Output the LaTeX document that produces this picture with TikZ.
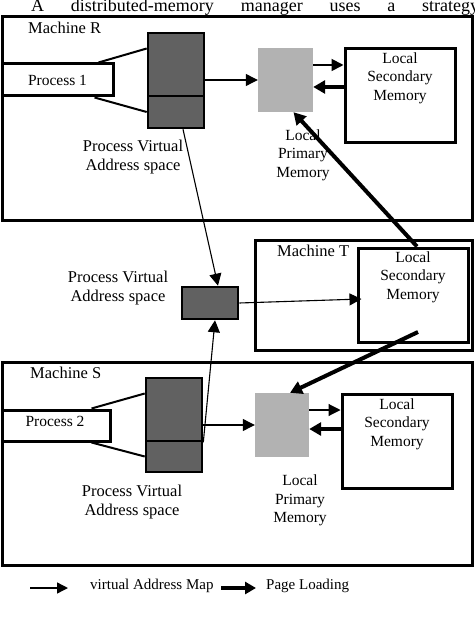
\documentclass[tikz,border=0pt]{standalone}
\usepackage{fontspec}
\setmainfont{Liberation Serif}
\usetikzlibrary{positioning, arrows.meta, calc}

\begin{document}
\begin{tikzpicture}[
    x=1pt, y=-1pt,
    machine/.style={draw, line width=3pt, inner sep=0pt},
    box/.style={draw, line width=3pt, fill=white, inner sep=0pt,
                minimum width=#1},
    box/.default={110pt},
    vas/.style={draw, line width=2.6pt, fill=black!62, inner sep=0pt,
                minimum width=56pt},
    prim/.style={fill=black!30, inner sep=0pt, minimum width=55pt,
                 minimum height=64pt},
    txt/.style={align=center, inner sep=0pt, font=\fontsize{15.5}{18.5}\selectfont},
    big/.style={txt, font=\fontsize{16.5}{19}\selectfont},
    small/.style={txt, font=\fontsize{15}{18}\selectfont},
    map/.style={-{Triangle[length=12pt, width=12pt]}, line width=1.1pt},
    load/.style={-{Triangle[length=12pt, width=13pt]}, line width=4pt},
    link/.style={line width=2pt}
]
\useasboundingbox (0,0) rectangle (474,620);

% ---- heading line (cut by the page) ----
\node[anchor=base west, inner sep=0pt] (head) at (31,12)
      {\fontsize{18}{20}\selectfont\makebox[448pt][s]{A distributed-memory manager uses a strategy}};

% ---- Machine R ----
\node[machine, minimum width=470pt, minimum height=203pt] (mR) at (237,118.5) {};
\node[big, anchor=west] (mRl) at (28,28) {Machine R};
\node[box=111pt, minimum height=32pt] (p1) at (57.5,80) {};
\node[txt] at (p1) {Process 1};
\node[vas, minimum height=63pt] (vasRt) at (176,64.5) {};
\node[vas, minimum height=32pt] (vasRb) at (176,112) {};
\node[big] (vasRl) at (133,157) {Process Virtual\\Address space};
\node[prim] (primR) at (285.5,80) {};
\node[txt] (primRl) at (303,155) {Local\\Primary\\Memory};
\node[box, minimum height=94pt] (secR) at (400,96) {};
\node[txt] (secRl) at (400,78) {Local\\Secondary\\Memory};
\draw[link] ([xshift=-16pt]p1.north east) -- ([yshift=16pt]vasRt.west);
\draw[link] ([xshift=-20pt]p1.south east) -- (vasRb.west);
\draw[map] (vasRt.east |- primR) -- (primR.west);
\draw[map, line width=1.8pt] ([yshift=15pt]primR.east) -- ([yshift=15pt]primR.east -| secR.west);
\draw[load] ([yshift=-7pt]primR.east -| secR.west) -- ([yshift=-7pt]primR.east);

% ---- Machine T ----
\node[machine, minimum width=217pt, minimum height=110pt] (mT) at (363.5,295) {};
\node[big, anchor=west] (mTl) at (277,251) {Machine T};
\node[box, minimum height=94pt] (secT) at (413,295) {};
\node[txt] (secTl) at (413,277) {Local\\Secondary\\Memory};
\node[vas, minimum height=32pt] (vasM) at (210,303) {};
\node[big] (vasMl) at (118,288) {Process Virtual\\Address space};
\draw[map] (vasM.east) -- ([shift={(5pt,-4pt)}]secT.west);

% ---- Machine S ----
\node[machine, minimum width=470pt, minimum height=203pt] (mS) at (237,463.5) {};
\node[big, anchor=west] (mSl) at (30,373) {Machine S};
\node[box=108pt, minimum height=31pt] (p2) at (56,425.5) {};
\node[txt] at (55,421) {Process 2};
\node[vas, minimum height=63pt] (vasSt) at (174,409.5) {};
\node[vas, minimum height=31pt] (vasSb) at (174,456.5) {};
\node[big] (vasSl) at (132,502.5) {Process Virtual\\Address space};
\node[prim, minimum width=54pt] (primS) at (282,425) {};
\node[txt] (primSl) at (300,500.5) {Local\\Primary\\Memory};
\node[box, minimum height=94pt] (secS) at (397,441) {};
\node[txt] (secSl) at (397,424) {Local\\Secondary\\Memory};
\draw[link] ([xshift=-20pt]p2.north east) -- ([yshift=16pt]vasSt.west);
\draw[link] ([xshift=-20pt]p2.south east) -- (vasSb.west);
\draw[map] (vasSt.east |- primS) -- (primS.west);
\draw[map] ([yshift=15pt]primS.east) -- ([yshift=15pt]primS.east -| secS.west);
\draw[load] ([yshift=-4pt]primS.east -| secS.west) -- ([yshift=-4pt]primS.east);

% ---- between machines ----
\draw[map] ([xshift=7pt]vasRb.south) -- ([xshift=8pt]vasM.north);
\draw[map] (vasSt.south east) -- ([xshift=5pt]vasM.south);
\draw[load] ([xshift=4pt]secT.north) -- ([xshift=8pt]primR.south);
\draw[load] ([shift={(5pt,-37pt)}]secT.center) -- ([xshift=8pt]primS.north);

% ---- legend ----
\coordinate (lgA) at (30,588);
\coordinate (lgB) at (68,588);
\coordinate (lgC) at (221,588);
\coordinate (lgD) at (256,588);
\draw[map, -{Triangle[length=11pt, width=11pt]}, line width=1.4pt] (lgA) -- (lgB);
\node[small, anchor=west] (lgMap) at (90,586) {virtual Address Map};
\draw[load, -{Triangle[length=11pt, width=12pt]}, line width=4.5pt] (lgC) -- (lgD);
\node[small, anchor=west] (lgLoad) at (266,586) {Page Loading};

\end{tikzpicture}
\end{document}
